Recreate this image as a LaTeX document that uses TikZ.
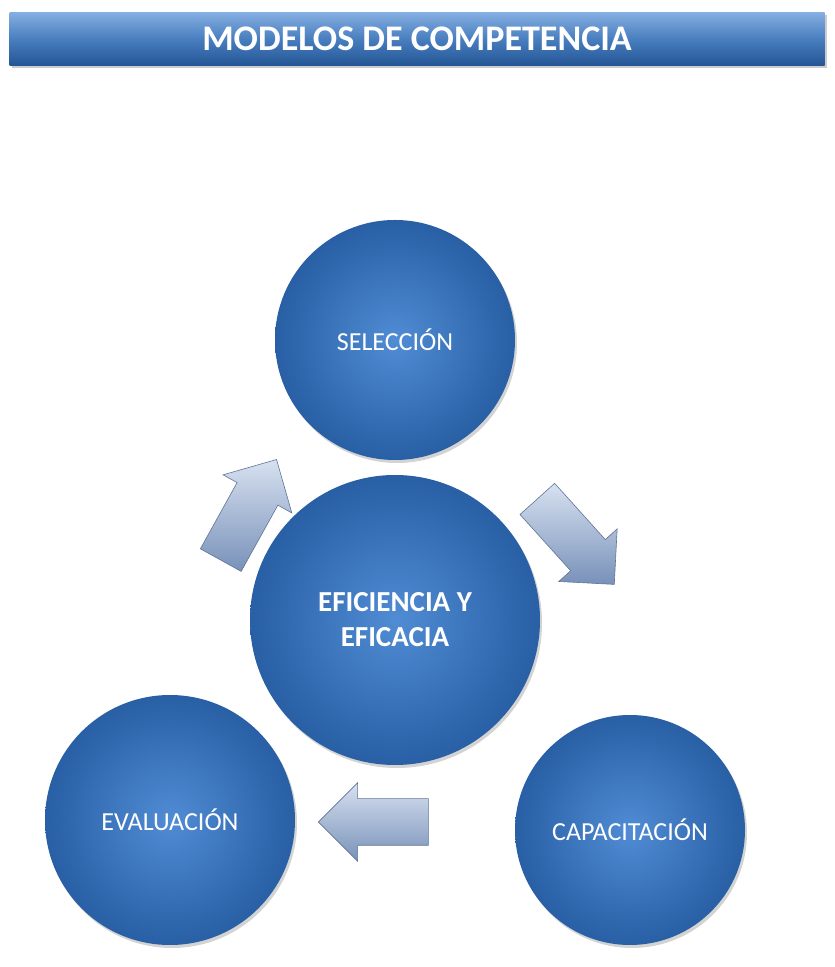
\documentclass[tikz,border=0pt]{standalone}
\usepackage{fontspec}
\setmainfont{Carlito}
\usetikzlibrary{shapes.arrows,shadows}
\definecolor{bout}{RGB}{40,95,165}
\definecolor{bin}{RGB}{80,140,212}
\definecolor{aout}{RGB}{120,145,185}
\definecolor{ain}{RGB}{215,225,240}
\tikzset{
 circ/.style={circle,draw=none,shading=radial,inner color=bin,outer color=bout,text=white,font=\fontsize{26}{30}\selectfont,align=center,drop shadow={opacity=0.35,shadow xshift=2pt,shadow yshift=-3pt}},
 barrow/.style={single arrow,draw=aout!80!black,line width=0.6pt,shading=axis,top color=ain,bottom color=aout,shading angle=0,single arrow head extend=16pt,inner xsep=0pt,inner ysep=23pt,text height=0pt,text depth=0pt},
}
\begin{document}
\begin{tikzpicture}[x=1pt,y=1pt]
\useasboundingbox (0,0) rectangle (835,967);
\node[draw=none,minimum width=815pt,minimum height=53pt,top color=bin!70!white,bottom color=bout!90!black,middle color=bin!90!black,text=white,font=\bfseries\fontsize{36}{40}\selectfont,drop shadow={opacity=0.4,shadow xshift=2pt,shadow yshift=-3pt}] (title) at (417,928) {MODELOS DE COMPETENCIA};
\node[circ,minimum size=240pt] (sel) at (395,627) {SELECCIÓN};
\node[circ,minimum size=290pt,font=\bfseries\fontsize{29}{35}\selectfont] (cen) at (395,347) {EFICIENCIA Y\\EFICACIA};
\node[circ,minimum size=250pt] (eva) at (170,147) {EVALUACIÓN};
\node[circ,minimum size=230pt] (cap) at (630,137) {CAPACITACIÓN};
\node[barrow,minimum height=115pt,rotate=61] (a1) at (243,447) {};
\node[barrow,minimum height=115pt,rotate=-48] (a2) at (568,434) {};
\node[barrow,minimum height=110pt,rotate=180] (a3) at (385,145) {};
\end{tikzpicture}
\end{document}
